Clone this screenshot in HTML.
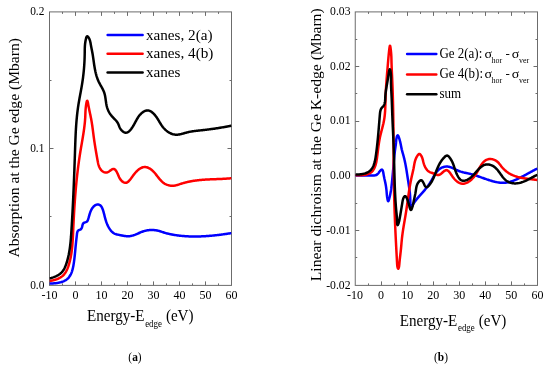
<!DOCTYPE html>
<html><head><meta charset="utf-8"><title>XANES</title>
<style>
html,body{margin:0;padding:0;background:#fff;}
body{width:550px;height:369px;overflow:hidden;}
svg{display:block;}
text{font-family:"Liberation Serif","DejaVu Serif",serif;fill:#000;}
.tk{font-size:12px;}
.lb{font-size:15px;}
.cap{font-size:10.5px;}
</style></head><body>
<svg width="550" height="369" viewBox="0 0 550 369">
<rect width="550" height="369" fill="#fff"/>

<g stroke="#6c6c6c" stroke-width="1" fill="none"><rect x="49.50" y="11.90" width="182.00" height="273.50"/><path d="M75.50,285.40v-4M75.50,11.90v4M101.50,285.40v-4M101.50,11.90v4M127.50,285.40v-4M127.50,11.90v4M153.50,285.40v-4M153.50,11.90v4M179.50,285.40v-4M179.50,11.90v4M205.50,285.40v-4M205.50,11.90v4M62.50,285.40v-2M62.50,11.90v2M88.50,285.40v-2M88.50,11.90v2M114.50,285.40v-2M114.50,11.90v2M140.50,285.40v-2M140.50,11.90v2M166.50,285.40v-2M166.50,11.90v2M192.50,285.40v-2M192.50,11.90v2M218.50,285.40v-2M218.50,11.90v2M49.50,148.50h4M231.50,148.50h-4M49.50,216.50h2M231.50,216.50h-2M49.50,80.50h2M231.50,80.50h-2"/></g>
<svg x="49.50" y="11.90" width="182.00" height="273.50" viewBox="49.50 11.90 182.00 273.50" overflow="hidden">
<path d="M49.40,283.60L49.99,283.59L50.60,283.57L51.23,283.54L51.87,283.51L52.53,283.47L53.19,283.43L53.87,283.37L54.55,283.31L55.24,283.24L55.94,283.15L56.64,283.06L57.33,282.95L58.03,282.83L58.73,282.69L59.42,282.54L60.11,282.38L60.79,282.20L61.46,282.00L62.12,281.79L62.77,281.55L63.41,281.30L64.03,281.03L64.63,280.74L65.22,280.43L65.78,280.09L66.33,279.73L66.84,279.35L67.34,278.95L67.81,278.52L68.25,278.07L68.68,277.60L69.08,277.10L69.45,276.59L69.81,276.06L70.15,275.52L70.47,274.95L70.77,274.37L71.05,273.78L71.31,273.18L71.56,272.56L71.80,271.93L72.02,271.29L72.22,270.64L72.41,269.98L72.59,269.32L72.76,268.65L72.92,267.97L73.07,267.29L73.21,266.61L73.34,265.92L73.46,265.24L73.58,264.55L73.69,263.86L73.79,263.18L73.89,262.50L73.99,261.82L74.08,261.14L74.17,260.47L74.25,259.80L74.34,259.14L74.42,258.47L74.50,257.81L74.57,257.16L74.64,256.50L74.72,255.84L74.78,255.19L74.85,254.54L74.92,253.89L74.98,253.24L75.05,252.59L75.11,251.94L75.17,251.29L75.23,250.64L75.29,249.99L75.35,249.34L75.41,248.69L75.47,248.04L75.53,247.38L75.60,246.73L75.66,246.08L75.72,245.42L75.79,244.76L75.85,244.10L75.92,243.43L75.99,242.76L76.06,242.09L76.13,241.42L76.20,240.75L76.28,240.07L76.36,239.38L76.44,238.70L76.52,238.01L76.60,237.33L76.68,236.64L76.76,235.95L76.83,235.27L76.91,234.58L76.98,233.90L77.07,233.23L77.18,232.59L77.35,231.98L77.58,231.42L77.89,230.93L78.32,230.51L78.86,230.18L79.51,229.91L80.17,229.65L80.75,229.31L81.22,228.87L81.58,228.35L81.85,227.75L82.05,227.09L82.21,226.40L82.35,225.70L82.52,225.01L82.73,224.35L83.01,223.75L83.38,223.23L83.86,222.84L84.45,222.56L85.10,222.34L85.76,222.14L86.38,221.90L86.91,221.56L87.32,221.09L87.64,220.53L87.90,219.90L88.13,219.25L88.34,218.60L88.55,217.95L88.74,217.29L88.93,216.64L89.12,215.99L89.30,215.35L89.48,214.71L89.67,214.07L89.87,213.44L90.07,212.82L90.29,212.20L90.52,211.59L90.77,210.99L91.04,210.39L91.33,209.80L91.66,209.21L92.01,208.63L92.39,208.06L92.81,207.50L93.27,206.96L93.75,206.44L94.27,205.96L94.82,205.53L95.39,205.16L95.99,204.86L96.62,204.64L97.26,204.52L97.92,204.51L98.60,204.61L99.26,204.81L99.88,205.10L100.44,205.48L100.92,205.94L101.34,206.47L101.69,207.04L102.01,207.64L102.28,208.27L102.54,208.90L102.78,209.53L103.00,210.17L103.20,210.80L103.40,211.44L103.58,212.08L103.76,212.72L103.92,213.37L104.09,214.01L104.25,214.66L104.41,215.30L104.57,215.95L104.73,216.59L104.89,217.24L105.06,217.89L105.24,218.54L105.42,219.18L105.61,219.83L105.81,220.47L106.02,221.11L106.23,221.75L106.46,222.38L106.69,223.01L106.94,223.64L107.19,224.26L107.46,224.87L107.74,225.48L108.03,226.09L108.34,226.68L108.66,227.27L109.00,227.85L109.35,228.42L109.72,228.99L110.10,229.54L110.50,230.08L110.92,230.61L111.36,231.13L111.82,231.62L112.30,232.08L112.81,232.50L113.33,232.89L113.89,233.24L114.46,233.54L115.06,233.81L115.68,234.05L116.31,234.26L116.95,234.44L117.61,234.61L118.27,234.76L118.94,234.90L119.62,235.03L120.29,235.16L120.97,235.29L121.64,235.42L122.31,235.55L122.98,235.68L123.65,235.80L124.31,235.91L124.98,236.01L125.64,236.10L126.30,236.17L126.96,236.22L127.62,236.24L128.28,236.24L128.93,236.22L129.59,236.16L130.24,236.08L130.89,235.96L131.54,235.83L132.19,235.66L132.84,235.48L133.48,235.28L134.12,235.06L134.76,234.83L135.39,234.59L136.02,234.33L136.65,234.07L137.27,233.81L137.89,233.54L138.51,233.27L139.13,232.99L139.75,232.73L140.36,232.46L140.98,232.21L141.60,231.96L142.23,231.72L142.85,231.49L143.49,231.28L144.13,231.09L144.77,230.91L145.42,230.74L146.07,230.60L146.73,230.47L147.39,230.35L148.05,230.25L148.72,230.17L149.39,230.11L150.05,230.06L150.73,230.02L151.40,230.01L152.07,230.01L152.74,230.02L153.41,230.05L154.08,230.10L154.75,230.17L155.42,230.25L156.08,230.34L156.75,230.46L157.40,230.59L158.06,230.73L158.71,230.89L159.36,231.07L160.00,231.26L160.64,231.46L161.27,231.67L161.91,231.88L162.54,232.10L163.18,232.31L163.81,232.51L164.45,232.71L165.09,232.90L165.73,233.08L166.38,233.26L167.02,233.42L167.67,233.58L168.32,233.74L168.97,233.89L169.62,234.03L170.28,234.17L170.94,234.30L171.59,234.43L172.25,234.56L172.91,234.68L173.58,234.79L174.24,234.90L174.90,235.01L175.56,235.12L176.23,235.21L176.89,235.31L177.55,235.40L178.22,235.49L178.88,235.57L179.55,235.65L180.21,235.73L180.88,235.80L181.55,235.87L182.21,235.93L182.88,235.99L183.54,236.05L184.21,236.11L184.88,236.16L185.54,236.20L186.21,236.25L186.88,236.29L187.55,236.32L188.21,236.35L188.88,236.38L189.55,236.41L190.22,236.43L190.89,236.45L191.55,236.47L192.22,236.48L192.89,236.49L193.56,236.50L194.23,236.51L194.90,236.51L195.56,236.51L196.23,236.50L196.90,236.49L197.57,236.48L198.24,236.47L198.91,236.45L199.58,236.44L200.25,236.42L200.91,236.39L201.58,236.36L202.25,236.34L202.92,236.30L203.59,236.27L204.26,236.23L204.93,236.19L205.59,236.15L206.26,236.11L206.93,236.06L207.60,236.02L208.27,235.97L208.94,235.91L209.60,235.86L210.27,235.80L210.94,235.74L211.61,235.68L212.27,235.62L212.94,235.55L213.61,235.49L214.27,235.42L214.94,235.35L215.60,235.28L216.27,235.20L216.94,235.13L217.60,235.05L218.27,234.97L218.93,234.89L219.60,234.81L220.26,234.72L220.92,234.64L221.59,234.55L222.25,234.46L222.91,234.37L223.58,234.28L224.24,234.19L224.90,234.10L225.56,234.00L226.22,233.91L226.88,233.81L227.55,233.71L228.21,233.61L228.87,233.51L229.52,233.41L230.18,233.31L230.84,233.20L231.50,233.10" fill="none" stroke="#0000ff" stroke-width="2.5" stroke-linejoin="round"/>
<path d="M49.40,281.00L49.99,280.91L50.60,280.81L51.22,280.70L51.86,280.58L52.51,280.44L53.17,280.29L53.83,280.12L54.50,279.94L55.18,279.74L55.85,279.53L56.52,279.30L57.18,279.05L57.84,278.78L58.48,278.50L59.12,278.20L59.73,277.87L60.34,277.53L60.92,277.17L61.48,276.79L62.01,276.38L62.52,275.96L63.01,275.51L63.47,275.05L63.91,274.57L64.34,274.07L64.74,273.56L65.12,273.03L65.48,272.49L65.83,271.93L66.16,271.36L66.47,270.78L66.77,270.19L67.05,269.59L67.32,268.98L67.58,268.36L67.82,267.74L68.06,267.11L68.28,266.47L68.49,265.83L68.70,265.19L68.90,264.55L69.09,263.90L69.27,263.25L69.45,262.60L69.63,261.95L69.79,261.30L69.95,260.65L70.11,260.00L70.26,259.34L70.40,258.69L70.54,258.03L70.67,257.38L70.80,256.72L70.92,256.06L71.04,255.40L71.15,254.75L71.26,254.09L71.37,253.42L71.47,252.76L71.56,252.10L71.65,251.44L71.74,250.77L71.82,250.11L71.90,249.45L71.98,248.78L72.05,248.12L72.12,247.45L72.19,246.78L72.25,246.12L72.31,245.45L72.37,244.78L72.42,244.11L72.48,243.44L72.53,242.78L72.58,242.11L72.62,241.44L72.66,240.77L72.71,240.10L72.75,239.43L72.79,238.76L72.82,238.09L72.86,237.42L72.89,236.75L72.93,236.07L72.96,235.40L72.99,234.73L73.02,234.06L73.05,233.39L73.08,232.72L73.11,232.05L73.14,231.38L73.17,230.71L73.20,230.04L73.23,229.37L73.26,228.70L73.29,228.03L73.32,227.36L73.35,226.69L73.38,226.02L73.42,225.35L73.45,224.68L73.48,224.01L73.51,223.35L73.55,222.68L73.58,222.01L73.61,221.34L73.65,220.67L73.68,220.00L73.71,219.34L73.75,218.67L73.78,218.00L73.82,217.33L73.86,216.67L73.89,216.00L73.93,215.33L73.97,214.67L74.00,214.00L74.04,213.33L74.08,212.67L74.12,212.00L74.16,211.33L74.20,210.67L74.24,210.00L74.28,209.33L74.32,208.67L74.36,208.00L74.40,207.34L74.45,206.67L74.49,206.01L74.53,205.34L74.58,204.67L74.62,204.01L74.67,203.34L74.71,202.68L74.76,202.01L74.81,201.35L74.85,200.68L74.90,200.02L74.95,199.36L75.00,198.69L75.05,198.03L75.10,197.36L75.15,196.70L75.20,196.03L75.25,195.37L75.31,194.70L75.36,194.04L75.41,193.38L75.47,192.71L75.52,192.05L75.58,191.38L75.64,190.72L75.69,190.06L75.75,189.39L75.81,188.73L75.87,188.07L75.93,187.40L75.99,186.74L76.05,186.08L76.11,185.41L76.18,184.75L76.24,184.08L76.30,183.42L76.37,182.76L76.43,182.09L76.50,181.43L76.57,180.77L76.64,180.10L76.70,179.44L76.77,178.78L76.84,178.11L76.92,177.45L76.99,176.79L77.06,176.12L77.13,175.46L77.21,174.80L77.28,174.13L77.36,173.47L77.44,172.81L77.52,172.14L77.59,171.48L77.67,170.82L77.75,170.15L77.84,169.49L77.92,168.83L78.00,168.16L78.08,167.50L78.17,166.84L78.26,166.17L78.34,165.51L78.43,164.85L78.52,164.18L78.61,163.52L78.70,162.86L78.79,162.19L78.88,161.53L78.98,160.86L79.07,160.20L79.17,159.54L79.26,158.87L79.36,158.21L79.46,157.54L79.56,156.88L79.66,156.22L79.76,155.55L79.86,154.89L79.97,154.22L80.07,153.56L80.18,152.89L80.28,152.23L80.39,151.57L80.50,150.90L80.61,150.24L80.72,149.57L80.83,148.91L80.94,148.24L81.06,147.58L81.17,146.91L81.28,146.25L81.40,145.58L81.51,144.92L81.63,144.26L81.74,143.59L81.86,142.93L81.97,142.27L82.08,141.60L82.20,140.94L82.31,140.28L82.42,139.62L82.53,138.96L82.64,138.30L82.75,137.64L82.86,136.98L82.97,136.32L83.08,135.66L83.18,135.00L83.29,134.34L83.39,133.69L83.49,133.03L83.59,132.38L83.69,131.72L83.79,131.07L83.88,130.42L83.97,129.76L84.06,129.11L84.15,128.46L84.24,127.81L84.32,127.17L84.40,126.52L84.48,125.87L84.55,125.23L84.63,124.58L84.70,123.94L84.76,123.30L84.83,122.66L84.89,122.02L84.95,121.38L85.00,120.74L85.05,120.11L85.10,119.47L85.14,118.84L85.18,118.21L85.22,117.57L85.25,116.95L85.28,116.32L85.30,115.69L85.33,115.06L85.35,114.42L85.37,113.78L85.40,113.13L85.43,112.47L85.46,111.80L85.49,111.11L85.54,110.41L85.59,109.69L85.65,108.95L85.72,108.19L85.80,107.40L85.89,106.59L86.00,105.74L86.12,104.87L86.25,103.99L86.40,103.14L86.56,102.36L86.72,101.69L86.89,101.17L87.06,100.84L87.23,100.75L87.39,100.91L87.56,101.30L87.72,101.86L87.88,102.57L88.04,103.37L88.20,104.23L88.36,105.11L88.51,105.97L88.66,106.79L88.81,107.58L88.96,108.33L89.11,109.07L89.25,109.77L89.39,110.46L89.53,111.13L89.67,111.77L89.80,112.41L89.94,113.03L90.07,113.64L90.20,114.25L90.33,114.85L90.46,115.45L90.58,116.05L90.70,116.65L90.82,117.26L90.94,117.87L91.06,118.49L91.18,119.11L91.29,119.74L91.40,120.37L91.51,121.00L91.62,121.64L91.73,122.29L91.84,122.93L91.94,123.59L92.04,124.24L92.14,124.90L92.24,125.56L92.34,126.23L92.43,126.89L92.52,127.57L92.61,128.24L92.70,128.91L92.79,129.59L92.88,130.27L92.97,130.95L93.05,131.63L93.14,132.31L93.23,132.99L93.31,133.67L93.40,134.34L93.48,135.02L93.57,135.69L93.66,136.35L93.75,137.02L93.84,137.68L93.93,138.34L94.03,139.00L94.12,139.66L94.21,140.32L94.31,140.97L94.40,141.62L94.50,142.28L94.60,142.93L94.70,143.58L94.80,144.23L94.90,144.87L95.00,145.52L95.10,146.17L95.21,146.82L95.31,147.47L95.42,148.11L95.52,148.76L95.63,149.41L95.74,150.06L95.85,150.71L95.96,151.37L96.07,152.02L96.18,152.67L96.30,153.33L96.41,153.99L96.52,154.65L96.64,155.31L96.76,155.97L96.88,156.64L97.00,157.31L97.12,157.98L97.24,158.65L97.36,159.33L97.48,160.01L97.61,160.70L97.74,161.38L97.87,162.06L98.01,162.75L98.17,163.43L98.33,164.10L98.51,164.76L98.71,165.42L98.93,166.06L99.18,166.69L99.45,167.30L99.74,167.90L100.07,168.48L100.42,169.04L100.82,169.57L101.25,170.08L101.72,170.57L102.23,171.02L102.78,171.44L103.37,171.82L103.98,172.14L104.61,172.38L105.25,172.55L105.89,172.61L106.52,172.57L107.15,172.42L107.77,172.17L108.38,171.85L108.99,171.48L109.60,171.06L110.20,170.62L110.80,170.19L111.40,169.77L111.99,169.41L112.57,169.13L113.13,168.96L113.67,168.93L114.19,169.04L114.68,169.29L115.15,169.66L115.59,170.14L116.02,170.70L116.42,171.32L116.79,171.99L117.15,172.70L117.48,173.41L117.79,174.12L118.08,174.80L118.35,175.47L118.62,176.11L118.90,176.74L119.18,177.35L119.48,177.94L119.81,178.52L120.18,179.09L120.58,179.65L121.04,180.20L121.54,180.72L122.07,181.22L122.63,181.66L123.22,182.05L123.82,182.37L124.42,182.61L125.02,182.75L125.62,182.79L126.21,182.72L126.78,182.54L127.33,182.27L127.87,181.91L128.40,181.49L128.91,181.01L129.41,180.48L129.90,179.91L130.37,179.32L130.83,178.72L131.27,178.11L131.70,177.52L132.12,176.94L132.53,176.37L132.93,175.81L133.33,175.27L133.72,174.74L134.12,174.22L134.52,173.70L134.93,173.20L135.34,172.71L135.76,172.23L136.20,171.75L136.66,171.29L137.13,170.83L137.63,170.37L138.14,169.93L138.68,169.50L139.24,169.09L139.81,168.70L140.41,168.34L141.01,168.01L141.63,167.72L142.26,167.47L142.90,167.27L143.54,167.12L144.20,167.03L144.86,167.01L145.52,167.04L146.18,167.14L146.84,167.30L147.49,167.50L148.12,167.74L148.73,168.02L149.32,168.32L149.90,168.64L150.45,169.00L150.98,169.37L151.50,169.77L152.01,170.19L152.50,170.62L152.97,171.07L153.44,171.54L153.89,172.02L154.34,172.52L154.78,173.03L155.21,173.54L155.64,174.07L156.06,174.60L156.48,175.14L156.90,175.68L157.32,176.22L157.74,176.76L158.16,177.31L158.59,177.85L159.02,178.39L159.45,178.92L159.90,179.45L160.35,179.97L160.81,180.47L161.28,180.96L161.77,181.44L162.26,181.90L162.77,182.33L163.30,182.75L163.84,183.14L164.40,183.51L164.97,183.84L165.56,184.16L166.17,184.44L166.79,184.70L167.42,184.92L168.06,185.12L168.71,185.30L169.36,185.44L170.02,185.56L170.69,185.65L171.36,185.70L172.03,185.74L172.70,185.74L173.37,185.71L174.04,185.66L174.70,185.57L175.36,185.46L176.02,185.32L176.67,185.16L177.31,184.97L177.96,184.78L178.60,184.57L179.24,184.36L179.88,184.14L180.51,183.93L181.16,183.73L181.80,183.52L182.44,183.33L183.08,183.14L183.73,182.96L184.37,182.78L185.02,182.61L185.67,182.44L186.31,182.28L186.96,182.13L187.61,181.98L188.27,181.83L188.92,181.69L189.57,181.56L190.22,181.43L190.88,181.31L191.53,181.19L192.19,181.07L192.85,180.96L193.50,180.85L194.16,180.75L194.82,180.65L195.48,180.56L196.14,180.47L196.80,180.39L197.46,180.30L198.13,180.23L198.79,180.15L199.45,180.08L200.12,180.02L200.78,179.95L201.44,179.89L202.11,179.84L202.78,179.78L203.44,179.73L204.11,179.68L204.78,179.64L205.44,179.60L206.11,179.56L206.78,179.52L207.45,179.48L208.12,179.45L208.79,179.42L209.45,179.39L210.12,179.36L210.79,179.33L211.46,179.30L212.13,179.28L212.80,179.25L213.47,179.23L214.14,179.20L214.81,179.18L215.48,179.15L216.15,179.13L216.82,179.11L217.49,179.08L218.16,179.06L218.83,179.03L219.50,179.01L220.17,178.98L220.84,178.95L221.51,178.92L222.18,178.89L222.85,178.85L223.51,178.82L224.18,178.78L224.85,178.74L225.52,178.70L226.18,178.66L226.85,178.61L227.52,178.56L228.18,178.51L228.85,178.46L229.51,178.40L230.17,178.34L230.84,178.27L231.50,178.20" fill="none" stroke="#ff0000" stroke-width="2.5" stroke-linejoin="round"/>
<path d="M49.40,278.40L50.00,278.27L50.61,278.12L51.23,277.96L51.86,277.78L52.50,277.58L53.14,277.37L53.78,277.14L54.42,276.89L55.06,276.63L55.70,276.35L56.33,276.06L56.95,275.74L57.56,275.41L58.16,275.07L58.75,274.70L59.32,274.31L59.88,273.91L60.41,273.49L60.92,273.05L61.41,272.59L61.87,272.12L62.31,271.62L62.72,271.11L63.11,270.58L63.48,270.03L63.82,269.48L64.15,268.90L64.46,268.32L64.75,267.73L65.03,267.13L65.29,266.52L65.54,265.90L65.78,265.27L66.01,264.64L66.23,264.01L66.44,263.37L66.64,262.74L66.84,262.10L67.03,261.46L67.22,260.81L67.40,260.17L67.57,259.53L67.74,258.88L67.90,258.24L68.06,257.59L68.21,256.94L68.36,256.29L68.50,255.64L68.64,254.99L68.78,254.34L68.90,253.68L69.03,253.03L69.15,252.37L69.27,251.72L69.38,251.06L69.49,250.41L69.59,249.75L69.69,249.09L69.79,248.43L69.88,247.77L69.97,247.11L70.05,246.45L70.14,245.78L70.22,245.12L70.30,244.46L70.37,243.80L70.44,243.13L70.51,242.47L70.58,241.80L70.64,241.14L70.70,240.47L70.76,239.80L70.82,239.14L70.88,238.47L70.93,237.80L70.98,237.14L71.04,236.47L71.08,235.80L71.13,235.13L71.18,234.47L71.23,233.80L71.27,233.13L71.32,232.46L71.36,231.79L71.40,231.13L71.45,230.46L71.49,229.79L71.53,229.12L71.57,228.45L71.61,227.79L71.65,227.12L71.69,226.45L71.73,225.78L71.78,225.12L71.82,224.45L71.85,223.78L71.89,223.11L71.93,222.45L71.97,221.78L72.01,221.11L72.05,220.45L72.09,219.78L72.13,219.11L72.16,218.44L72.20,217.78L72.24,217.11L72.28,216.44L72.31,215.78L72.35,215.11L72.39,214.44L72.42,213.78L72.46,213.11L72.49,212.45L72.53,211.78L72.56,211.11L72.60,210.45L72.63,209.78L72.67,209.11L72.70,208.45L72.74,207.78L72.77,207.12L72.80,206.45L72.84,205.78L72.87,205.12L72.90,204.45L72.94,203.79L72.97,203.12L73.00,202.45L73.03,201.79L73.07,201.12L73.10,200.46L73.13,199.79L73.16,199.12L73.19,198.46L73.22,197.79L73.25,197.13L73.28,196.46L73.31,195.80L73.35,195.13L73.38,194.46L73.41,193.80L73.43,193.13L73.46,192.47L73.49,191.80L73.52,191.14L73.55,190.47L73.58,189.80L73.61,189.14L73.64,188.47L73.67,187.81L73.69,187.14L73.72,186.47L73.75,185.81L73.78,185.14L73.81,184.48L73.83,183.81L73.86,183.15L73.89,182.48L73.91,181.81L73.94,181.15L73.97,180.48L73.99,179.81L74.02,179.15L74.05,178.48L74.07,177.82L74.10,177.15L74.12,176.48L74.15,175.82L74.18,175.15L74.20,174.49L74.23,173.82L74.25,173.15L74.28,172.49L74.30,171.82L74.33,171.15L74.35,170.49L74.38,169.82L74.40,169.15L74.42,168.49L74.45,167.82L74.47,167.15L74.50,166.48L74.52,165.82L74.54,165.15L74.57,164.48L74.59,163.82L74.62,163.15L74.64,162.48L74.66,161.81L74.68,161.15L74.71,160.48L74.73,159.81L74.75,159.14L74.78,158.48L74.80,157.81L74.82,157.14L74.84,156.47L74.87,155.80L74.89,155.13L74.91,154.47L74.93,153.80L74.96,153.13L74.98,152.46L75.00,151.79L75.02,151.12L75.04,150.45L75.07,149.79L75.09,149.12L75.11,148.45L75.13,147.78L75.15,147.11L75.18,146.44L75.20,145.77L75.22,145.10L75.25,144.43L75.27,143.76L75.29,143.09L75.32,142.42L75.34,141.75L75.37,141.09L75.39,140.42L75.42,139.75L75.44,139.08L75.47,138.41L75.50,137.74L75.53,137.07L75.56,136.40L75.59,135.73L75.62,135.06L75.65,134.40L75.68,133.73L75.71,133.06L75.75,132.39L75.78,131.72L75.82,131.05L75.86,130.39L75.90,129.72L75.93,129.05L75.97,128.38L76.02,127.72L76.06,127.05L76.10,126.38L76.15,125.72L76.19,125.05L76.24,124.38L76.29,123.72L76.34,123.05L76.39,122.39L76.45,121.72L76.50,121.06L76.56,120.39L76.62,119.73L76.67,119.06L76.74,118.40L76.80,117.74L76.86,117.07L76.93,116.41L77.00,115.75L77.07,115.08L77.14,114.42L77.21,113.76L77.29,113.10L77.36,112.44L77.44,111.78L77.53,111.12L77.61,110.46L77.69,109.80L77.78,109.14L77.87,108.48L77.96,107.82L78.06,107.16L78.15,106.51L78.25,105.85L78.35,105.19L78.46,104.54L78.56,103.88L78.67,103.23L78.78,102.57L78.89,101.92L79.00,101.26L79.12,100.61L79.23,99.95L79.35,99.30L79.46,98.64L79.58,97.99L79.70,97.34L79.82,96.68L79.94,96.03L80.06,95.37L80.18,94.72L80.30,94.06L80.42,93.41L80.55,92.76L80.67,92.10L80.79,91.44L80.91,90.79L81.03,90.13L81.15,89.48L81.26,88.82L81.38,88.16L81.50,87.50L81.61,86.84L81.72,86.18L81.84,85.52L81.95,84.86L82.06,84.20L82.16,83.54L82.27,82.88L82.37,82.21L82.47,81.55L82.57,80.88L82.66,80.22L82.76,79.55L82.85,78.88L82.94,78.22L83.03,77.55L83.11,76.88L83.19,76.21L83.27,75.54L83.35,74.87L83.43,74.20L83.50,73.53L83.57,72.86L83.64,72.19L83.71,71.52L83.77,70.85L83.84,70.18L83.90,69.51L83.96,68.84L84.01,68.17L84.07,67.50L84.12,66.84L84.17,66.17L84.22,65.50L84.26,64.84L84.30,64.17L84.35,63.51L84.38,62.85L84.42,62.18L84.46,61.52L84.49,60.86L84.52,60.21L84.55,59.55L84.58,58.89L84.60,58.24L84.62,57.59L84.64,56.94L84.66,56.29L84.68,55.64L84.69,54.99L84.71,54.35L84.72,53.71L84.73,53.07L84.73,52.43L84.74,51.79L84.74,51.16L84.75,50.52L84.76,49.88L84.77,49.24L84.78,48.60L84.80,47.95L84.83,47.29L84.86,46.63L84.90,45.97L84.95,45.29L85.01,44.61L85.08,43.91L85.16,43.21L85.26,42.49L85.37,41.76L85.50,41.01L85.64,40.25L85.80,39.48L85.98,38.69L86.18,37.91L86.41,37.20L86.69,36.65L87.01,36.33L87.38,36.30L87.81,36.56L88.25,37.04L88.67,37.63L89.04,38.27L89.36,38.93L89.64,39.60L89.87,40.28L90.08,40.97L90.25,41.67L90.40,42.37L90.54,43.06L90.66,43.76L90.78,44.44L90.90,45.12L91.02,45.79L91.14,46.45L91.27,47.10L91.40,47.74L91.53,48.38L91.65,49.02L91.78,49.65L91.91,50.28L92.03,50.91L92.15,51.54L92.27,52.17L92.39,52.80L92.50,53.44L92.61,54.08L92.72,54.72L92.82,55.37L92.92,56.01L93.02,56.67L93.12,57.32L93.21,57.97L93.31,58.63L93.40,59.29L93.49,59.95L93.59,60.62L93.68,61.28L93.77,61.94L93.87,62.61L93.96,63.28L94.06,63.94L94.16,64.61L94.26,65.28L94.37,65.94L94.48,66.61L94.59,67.28L94.70,67.94L94.82,68.61L94.94,69.27L95.07,69.93L95.21,70.59L95.34,71.25L95.49,71.91L95.64,72.56L95.79,73.21L95.96,73.86L96.13,74.51L96.31,75.15L96.49,75.80L96.68,76.43L96.89,77.07L97.10,77.70L97.32,78.33L97.55,78.95L97.78,79.57L98.03,80.18L98.29,80.79L98.56,81.40L98.84,82.00L99.14,82.59L99.44,83.19L99.75,83.77L100.07,84.35L100.39,84.94L100.72,85.51L101.05,86.09L101.38,86.67L101.70,87.25L102.02,87.83L102.34,88.41L102.64,89.00L102.94,89.59L103.23,90.18L103.50,90.78L103.76,91.39L104.00,92.00L104.22,92.62L104.42,93.25L104.60,93.88L104.77,94.52L104.92,95.17L105.06,95.83L105.18,96.49L105.30,97.15L105.40,97.82L105.50,98.49L105.60,99.16L105.69,99.84L105.78,100.51L105.88,101.18L105.97,101.86L106.07,102.53L106.17,103.20L106.29,103.87L106.41,104.54L106.54,105.20L106.69,105.85L106.85,106.50L107.02,107.15L107.21,107.79L107.42,108.42L107.64,109.04L107.88,109.66L108.13,110.27L108.40,110.87L108.69,111.46L108.99,112.05L109.31,112.62L109.65,113.19L110.00,113.74L110.37,114.29L110.76,114.82L111.17,115.34L111.59,115.86L112.03,116.36L112.48,116.85L112.94,117.34L113.41,117.82L113.88,118.30L114.35,118.78L114.82,119.26L115.28,119.74L115.72,120.23L116.16,120.73L116.58,121.24L116.97,121.76L117.34,122.30L117.69,122.85L118.00,123.42L118.28,124.01L118.54,124.61L118.79,125.23L119.03,125.85L119.28,126.48L119.55,127.11L119.84,127.74L120.16,128.36L120.53,128.97L120.96,129.57L121.43,130.14L121.93,130.68L122.48,131.18L123.05,131.62L123.64,132.00L124.24,132.31L124.86,132.54L125.47,132.67L126.08,132.70L126.68,132.62L127.27,132.44L127.84,132.18L128.40,131.83L128.94,131.41L129.47,130.94L129.98,130.42L130.47,129.87L130.94,129.29L131.39,128.70L131.82,128.10L132.22,127.51L132.61,126.92L132.98,126.33L133.34,125.75L133.68,125.16L134.01,124.58L134.33,124.01L134.65,123.43L134.96,122.85L135.26,122.28L135.57,121.71L135.87,121.14L136.18,120.57L136.49,120.00L136.81,119.43L137.13,118.87L137.47,118.30L137.82,117.74L138.18,117.18L138.55,116.63L138.94,116.09L139.34,115.55L139.77,115.03L140.21,114.52L140.67,114.03L141.15,113.55L141.66,113.10L142.19,112.66L142.74,112.24L143.32,111.85L143.92,111.49L144.54,111.17L145.17,110.89L145.82,110.67L146.47,110.51L147.12,110.41L147.76,110.40L148.40,110.46L149.03,110.61L149.65,110.82L150.26,111.09L150.86,111.43L151.44,111.80L152.00,112.22L152.55,112.67L153.07,113.14L153.58,113.64L154.06,114.14L154.53,114.65L154.97,115.17L155.40,115.69L155.81,116.22L156.21,116.76L156.59,117.31L156.97,117.85L157.33,118.41L157.68,118.96L158.03,119.52L158.37,120.08L158.71,120.64L159.05,121.20L159.38,121.76L159.72,122.32L160.05,122.88L160.39,123.44L160.74,124.00L161.09,124.55L161.45,125.09L161.82,125.63L162.21,126.17L162.60,126.70L163.01,127.22L163.43,127.74L163.88,128.25L164.34,128.74L164.81,129.23L165.31,129.71L165.82,130.17L166.35,130.62L166.89,131.05L167.45,131.47L168.02,131.87L168.60,132.24L169.19,132.60L169.79,132.93L170.40,133.24L171.02,133.52L171.65,133.78L172.28,134.01L172.92,134.21L173.57,134.38L174.21,134.51L174.86,134.61L175.52,134.68L176.17,134.71L176.83,134.71L177.48,134.67L178.14,134.61L178.80,134.52L179.45,134.41L180.11,134.28L180.77,134.14L181.43,133.98L182.09,133.80L182.75,133.62L183.41,133.43L184.07,133.24L184.73,133.05L185.39,132.86L186.04,132.68L186.70,132.51L187.36,132.34L188.02,132.18L188.67,132.04L189.33,131.90L189.99,131.77L190.64,131.64L191.30,131.53L191.95,131.42L192.61,131.32L193.26,131.22L193.91,131.13L194.57,131.04L195.22,130.95L195.88,130.87L196.53,130.80L197.19,130.72L197.84,130.65L198.50,130.58L199.16,130.51L199.81,130.44L200.47,130.38L201.13,130.31L201.79,130.24L202.44,130.17L203.10,130.10L203.76,130.02L204.42,129.95L205.09,129.87L205.75,129.79L206.41,129.71L207.07,129.63L207.74,129.55L208.40,129.46L209.06,129.38L209.73,129.29L210.39,129.20L211.05,129.11L211.72,129.02L212.38,128.93L213.05,128.83L213.71,128.74L214.38,128.64L215.04,128.54L215.71,128.44L216.37,128.34L217.03,128.24L217.70,128.14L218.36,128.03L219.02,127.92L219.69,127.82L220.35,127.71L221.01,127.60L221.67,127.49L222.33,127.38L222.99,127.26L223.65,127.15L224.31,127.04L224.97,126.92L225.63,126.80L226.28,126.68L226.94,126.56L227.59,126.44L228.25,126.32L228.90,126.20L229.55,126.08L230.20,125.95L230.85,125.83L231.50,125.70" fill="none" stroke="#000" stroke-width="2.5" stroke-linejoin="round"/>
</svg>
<text transform="translate(49.39,298.70) scale(1.000,1.040)" style="font-size:12px" text-anchor="middle">-10</text>
<text transform="translate(75.40,298.70) scale(1.000,1.040)" style="font-size:12px" text-anchor="middle">0</text>
<text transform="translate(101.41,298.70) scale(1.000,1.040)" style="font-size:12px" text-anchor="middle">10</text>
<text transform="translate(127.42,298.70) scale(1.000,1.040)" style="font-size:12px" text-anchor="middle">20</text>
<text transform="translate(153.43,298.70) scale(1.000,1.040)" style="font-size:12px" text-anchor="middle">30</text>
<text transform="translate(179.44,298.70) scale(1.000,1.040)" style="font-size:12px" text-anchor="middle">40</text>
<text transform="translate(205.45,298.70) scale(1.000,1.040)" style="font-size:12px" text-anchor="middle">50</text>
<text transform="translate(231.46,298.70) scale(1.000,1.040)" style="font-size:12px" text-anchor="middle">60</text>
<text transform="translate(44.40,288.50) scale(1.000,1.040)" style="font-size:11.4px" text-anchor="end">0.0</text>
<text transform="translate(44.40,151.80) scale(1.000,1.040)" style="font-size:11.4px" text-anchor="end">0.1</text>
<text transform="translate(44.40,14.90) scale(1.000,1.040)" style="font-size:11.4px" text-anchor="end">0.2</text>
<path d="M107.6,34.9H142.6" stroke="#0000ff" stroke-width="2.5" stroke-linecap="round"/>
<text transform="translate(145.90,39.50) scale(1.000,1.000)" style="font-size:15.2px">xanes, 2(a)</text>
<path d="M107.6,53.8H142.6" stroke="#ff0000" stroke-width="2.5" stroke-linecap="round"/>
<text transform="translate(145.90,58.40) scale(1.000,1.000)" style="font-size:15.2px">xanes, 4(b)</text>
<path d="M107.6,72.6H142.6" stroke="#000" stroke-width="2.5" stroke-linecap="round"/>
<text transform="translate(145.90,77.20) scale(1.000,1.000)" style="font-size:15.2px">xanes</text>
<text transform="translate(19.30,257.60) rotate(-90) scale(1.040,1)" style="font-size:15px">Absorption at the Ge edge (Mbarn)</text>
<text transform="translate(87.00,321.40) scale(1.000,1.050)" style="font-size:15.1px">Energy-E<tspan dx="0.6" dy="5.5" style="font-size:8.9px">edge</tspan><tspan dx="0.2" dy="-5.5"> (eV)</tspan></text>
<text transform="translate(135.00,360.70) scale(1.000,1.080)" style="font-size:11.4px" text-anchor="middle">(<tspan font-weight="bold">a</tspan>)</text>
<g stroke="#6c6c6c" stroke-width="1" fill="none"><rect x="355.25" y="11.90" width="182.25" height="273.50"/><path d="M381.50,285.40v-4M381.50,11.90v4M407.50,285.40v-4M407.50,11.90v4M433.50,285.40v-4M433.50,11.90v4M459.50,285.40v-4M459.50,11.90v4M485.50,285.40v-4M485.50,11.90v4M511.50,285.40v-4M511.50,11.90v4M368.50,285.40v-2M368.50,11.90v2M394.50,285.40v-2M394.50,11.90v2M420.50,285.40v-2M420.50,11.90v2M446.50,285.40v-2M446.50,11.90v2M472.50,285.40v-2M472.50,11.90v2M498.50,285.40v-2M498.50,11.90v2M524.50,285.40v-2M524.50,11.90v2M355.25,230.50h4M537.50,230.50h-4M355.25,175.50h4M537.50,175.50h-4M355.25,121.50h4M537.50,121.50h-4M355.25,66.50h4M537.50,66.50h-4M355.25,257.50h2M537.50,257.50h-2M355.25,203.50h2M537.50,203.50h-2M355.25,148.50h2M537.50,148.50h-2M355.25,93.50h2M537.50,93.50h-2M355.25,39.50h2M537.50,39.50h-2"/></g>
<svg x="355.25" y="11.90" width="182.25" height="273.50" viewBox="355.25 11.90 182.25 273.50" overflow="hidden">
<path d="M355.50,175.60L356.17,175.60L356.84,175.60L357.50,175.60L358.17,175.60L358.84,175.60L359.51,175.60L360.18,175.60L360.85,175.60L361.52,175.60L362.19,175.60L362.85,175.60L363.52,175.60L364.19,175.60L364.86,175.60L365.53,175.60L366.20,175.60L366.86,175.60L367.53,175.60L368.20,175.59L368.86,175.59L369.53,175.58L370.20,175.57L370.88,175.56L371.55,175.54L372.23,175.52L372.91,175.50L373.60,175.47L374.28,175.42L374.94,175.34L375.58,175.21L376.19,175.02L376.75,174.75L377.26,174.39L377.73,173.95L378.16,173.44L378.58,172.90L379.00,172.32L379.42,171.74L379.88,171.16L380.36,170.60L380.89,170.10L381.40,169.75L381.87,169.62L382.26,169.77L382.58,170.17L382.84,170.75L383.05,171.49L383.23,172.31L383.38,173.18L383.52,174.05L383.66,174.87L383.81,175.66L383.95,176.40L384.09,177.11L384.23,177.79L384.37,178.44L384.50,179.07L384.64,179.68L384.77,180.27L384.91,180.86L385.04,181.44L385.16,182.02L385.29,182.61L385.41,183.20L385.53,183.80L385.65,184.42L385.76,185.05L385.87,185.71L385.98,186.38L386.08,187.06L386.17,187.75L386.26,188.44L386.35,189.13L386.42,189.81L386.49,190.48L386.56,191.13L386.61,191.77L386.66,192.39L386.71,193.01L386.76,193.63L386.82,194.26L386.88,194.91L386.95,195.57L387.04,196.27L387.13,196.99L387.25,197.76L387.39,198.58L387.54,199.43L387.72,200.23L387.92,200.86L388.13,201.22L388.35,201.21L388.58,200.84L388.81,200.20L389.04,199.41L389.26,198.56L389.47,197.73L389.66,196.93L389.84,196.16L390.01,195.41L390.17,194.68L390.31,193.97L390.45,193.28L390.58,192.61L390.70,191.96L390.81,191.32L390.92,190.69L391.01,190.07L391.11,189.46L391.19,188.85L391.28,188.25L391.35,187.65L391.43,187.06L391.50,186.46L391.57,185.86L391.64,185.25L391.71,184.64L391.78,184.02L391.85,183.39L391.91,182.76L391.98,182.12L392.05,181.48L392.11,180.83L392.18,180.17L392.25,179.51L392.31,178.85L392.37,178.18L392.44,177.51L392.50,176.84L392.57,176.16L392.63,175.48L392.69,174.80L392.75,174.12L392.82,173.43L392.88,172.75L392.94,172.06L393.00,171.37L393.06,170.68L393.12,169.99L393.18,169.31L393.24,168.62L393.30,167.93L393.35,167.25L393.41,166.57L393.47,165.88L393.53,165.21L393.58,164.53L393.64,163.85L393.70,163.18L393.75,162.51L393.81,161.84L393.87,161.17L393.93,160.51L393.99,159.84L394.05,159.18L394.11,158.52L394.17,157.86L394.23,157.20L394.30,156.54L394.36,155.89L394.43,155.23L394.50,154.58L394.57,153.93L394.64,153.27L394.72,152.62L394.79,151.98L394.87,151.33L394.95,150.68L395.04,150.04L395.12,149.39L395.21,148.75L395.30,148.10L395.40,147.46L395.49,146.82L395.59,146.17L395.68,145.53L395.77,144.87L395.85,144.22L395.92,143.56L395.99,142.89L396.04,142.21L396.09,141.52L396.15,140.83L396.21,140.12L396.30,139.40L396.41,138.68L396.55,137.94L396.73,137.20L396.96,136.45L397.23,135.79L397.52,135.36L397.83,135.30L398.14,135.64L398.43,136.24L398.72,136.97L398.98,137.72L399.22,138.44L399.45,139.15L399.65,139.85L399.84,140.53L400.02,141.21L400.18,141.87L400.34,142.53L400.48,143.18L400.62,143.82L400.75,144.46L400.87,145.09L401.00,145.72L401.12,146.35L401.25,146.97L401.37,147.60L401.50,148.23L401.64,148.86L401.78,149.49L401.94,150.13L402.10,150.77L402.27,151.42L402.45,152.07L402.63,152.72L402.82,153.38L403.00,154.04L403.19,154.70L403.37,155.36L403.55,156.01L403.73,156.67L403.90,157.33L404.06,157.98L404.22,158.63L404.38,159.28L404.53,159.93L404.68,160.58L404.82,161.23L404.96,161.88L405.10,162.53L405.23,163.17L405.36,163.82L405.49,164.47L405.61,165.12L405.73,165.76L405.85,166.41L405.96,167.06L406.08,167.71L406.19,168.36L406.30,169.01L406.41,169.66L406.51,170.31L406.62,170.97L406.73,171.62L406.83,172.28L406.93,172.94L407.04,173.60L407.14,174.26L407.24,174.93L407.34,175.59L407.44,176.26L407.55,176.93L407.65,177.61L407.76,178.28L407.86,178.96L407.97,179.64L408.07,180.32L408.18,181.00L408.28,181.68L408.39,182.36L408.49,183.04L408.60,183.71L408.70,184.38L408.80,185.05L408.90,185.71L408.99,186.36L409.09,187.01L409.18,187.65L409.27,188.29L409.36,188.92L409.44,189.53L409.52,190.14L409.60,190.74L409.68,191.33L409.75,191.91L409.81,192.49L409.88,193.08L409.93,193.67L409.99,194.28L410.04,194.91L410.09,195.56L410.13,196.25L410.17,196.97L410.21,197.73L410.24,198.53L410.27,199.39L410.30,200.30L410.32,201.26L410.35,202.24L410.39,203.21L410.44,204.14L410.50,204.99L410.60,205.73L410.72,206.34L410.88,206.78L411.08,207.02L411.32,207.04L411.62,206.80L411.95,206.34L412.32,205.73L412.70,205.04L413.09,204.35L413.47,203.69L413.85,203.08L414.22,202.49L414.60,201.94L414.98,201.40L415.36,200.89L415.74,200.38L416.14,199.88L416.54,199.37L416.95,198.87L417.37,198.37L417.79,197.87L418.22,197.37L418.66,196.87L419.10,196.37L419.54,195.87L419.99,195.37L420.44,194.87L420.89,194.37L421.34,193.87L421.80,193.36L422.25,192.86L422.70,192.36L423.14,191.85L423.58,191.34L424.02,190.84L424.46,190.33L424.89,189.82L425.31,189.30L425.73,188.79L426.14,188.27L426.55,187.75L426.95,187.23L427.35,186.71L427.74,186.18L428.13,185.65L428.51,185.11L428.88,184.57L429.26,184.02L429.62,183.47L429.99,182.91L430.34,182.35L430.70,181.78L431.04,181.21L431.39,180.63L431.73,180.04L432.06,179.44L432.40,178.84L432.73,178.24L433.06,177.63L433.39,177.03L433.73,176.42L434.07,175.82L434.41,175.23L434.76,174.64L435.12,174.05L435.49,173.48L435.87,172.92L436.26,172.37L436.67,171.84L437.09,171.32L437.53,170.83L437.98,170.35L438.46,169.89L438.95,169.46L439.47,169.05L440.01,168.66L440.57,168.31L441.15,167.98L441.76,167.69L442.38,167.42L443.02,167.19L443.66,166.99L444.32,166.83L444.98,166.71L445.65,166.62L446.32,166.57L446.98,166.56L447.65,166.59L448.30,166.67L448.95,166.78L449.59,166.92L450.23,167.10L450.86,167.31L451.49,167.55L452.11,167.80L452.73,168.07L453.35,168.36L453.97,168.66L454.58,168.96L455.20,169.27L455.81,169.58L456.43,169.89L457.05,170.18L457.67,170.47L458.29,170.75L458.92,171.00L459.55,171.24L460.18,171.46L460.82,171.67L461.46,171.86L462.10,172.04L462.74,172.21L463.39,172.37L464.03,172.53L464.68,172.67L465.33,172.81L465.97,172.95L466.62,173.09L467.27,173.23L467.91,173.36L468.56,173.51L469.20,173.65L469.84,173.80L470.48,173.96L471.11,174.13L471.75,174.30L472.38,174.47L473.01,174.65L473.64,174.84L474.27,175.03L474.90,175.23L475.52,175.43L476.15,175.63L476.77,175.84L477.40,176.05L478.02,176.27L478.64,176.48L479.27,176.70L479.89,176.92L480.51,177.14L481.14,177.36L481.76,177.58L482.38,177.81L483.01,178.03L483.64,178.26L484.26,178.48L484.89,178.70L485.52,178.92L486.15,179.14L486.78,179.36L487.41,179.57L488.05,179.79L488.69,180.00L489.33,180.20L489.97,180.41L490.61,180.61L491.26,180.80L491.91,180.99L492.56,181.18L493.21,181.36L493.87,181.53L494.53,181.70L495.19,181.86L495.85,182.01L496.51,182.15L497.17,182.28L497.84,182.39L498.50,182.50L499.17,182.59L499.83,182.67L500.50,182.74L501.17,182.79L501.83,182.82L502.50,182.84L503.16,182.84L503.82,182.82L504.49,182.78L505.15,182.73L505.81,182.65L506.46,182.56L507.12,182.45L507.78,182.33L508.43,182.19L509.08,182.03L509.73,181.86L510.37,181.68L511.02,181.48L511.66,181.28L512.30,181.06L512.93,180.83L513.57,180.59L514.20,180.35L514.82,180.10L515.45,179.84L516.07,179.57L516.68,179.30L517.30,179.03L517.91,178.75L518.51,178.46L519.12,178.17L519.72,177.88L520.32,177.59L520.91,177.29L521.51,176.99L522.10,176.68L522.69,176.38L523.28,176.07L523.86,175.75L524.45,175.44L525.04,175.13L525.62,174.81L526.20,174.49L526.79,174.17L527.37,173.85L527.95,173.53L528.53,173.21L529.12,172.89L529.70,172.57L530.28,172.25L530.87,171.93L531.45,171.61L532.04,171.29L532.63,170.97L533.22,170.65L533.81,170.34L534.40,170.03L535.00,169.72L535.59,169.41L536.19,169.10L536.79,168.80L537.40,168.50" fill="none" stroke="#0000ff" stroke-width="2.5" stroke-linejoin="round"/>
<path d="M355.50,175.20L356.09,175.22L356.70,175.23L357.33,175.25L357.98,175.26L358.64,175.26L359.32,175.26L360.01,175.24L360.71,175.22L361.42,175.19L362.13,175.14L362.84,175.08L363.56,175.00L364.26,174.91L364.96,174.80L365.66,174.67L366.34,174.52L367.00,174.35L367.65,174.15L368.28,173.93L368.89,173.68L369.48,173.40L370.04,173.10L370.57,172.76L371.07,172.40L371.54,172.00L371.99,171.58L372.41,171.13L372.80,170.66L373.17,170.17L373.52,169.65L373.85,169.12L374.15,168.56L374.44,167.98L374.71,167.39L374.95,166.78L375.18,166.16L375.40,165.53L375.60,164.88L375.78,164.22L375.96,163.55L376.12,162.88L376.26,162.19L376.40,161.50L376.53,160.81L376.65,160.12L376.76,159.42L376.87,158.72L376.97,158.02L377.07,157.32L377.16,156.63L377.25,155.94L377.34,155.26L377.43,154.58L377.51,153.90L377.59,153.23L377.68,152.56L377.76,151.90L377.84,151.24L377.92,150.58L378.00,149.92L378.08,149.27L378.16,148.62L378.25,147.97L378.33,147.33L378.41,146.69L378.50,146.04L378.59,145.40L378.68,144.77L378.77,144.13L378.86,143.49L378.96,142.85L379.06,142.22L379.16,141.58L379.27,140.95L379.38,140.31L379.50,139.67L379.61,139.03L379.74,138.39L379.87,137.75L380.00,137.11L380.14,136.47L380.28,135.82L380.43,135.18L380.59,134.53L380.75,133.88L380.91,133.23L381.08,132.57L381.24,131.92L381.41,131.26L381.59,130.60L381.76,129.94L381.93,129.29L382.11,128.63L382.28,127.97L382.45,127.30L382.62,126.64L382.79,125.98L382.95,125.32L383.11,124.66L383.26,124.00L383.42,123.34L383.56,122.68L383.70,122.02L383.83,121.36L383.96,120.70L384.08,120.05L384.19,119.39L384.29,118.73L384.39,118.08L384.48,117.42L384.57,116.77L384.65,116.12L384.72,115.46L384.79,114.81L384.85,114.16L384.91,113.51L384.97,112.86L385.02,112.20L385.07,111.55L385.11,110.90L385.15,110.25L385.18,109.59L385.22,108.94L385.25,108.29L385.28,107.63L385.30,106.98L385.32,106.32L385.35,105.66L385.37,105.01L385.39,104.35L385.40,103.69L385.42,103.03L385.44,102.37L385.45,101.70L385.47,101.04L385.49,100.37L385.50,99.71L385.52,99.04L385.54,98.37L385.56,97.70L385.58,97.02L385.61,96.35L385.63,95.67L385.66,94.99L385.69,94.31L385.72,93.63L385.75,92.95L385.78,92.26L385.82,91.58L385.85,90.89L385.89,90.21L385.93,89.52L385.97,88.83L386.01,88.15L386.05,87.46L386.09,86.77L386.14,86.08L386.18,85.40L386.23,84.71L386.28,84.02L386.33,83.34L386.37,82.65L386.42,81.97L386.47,81.28L386.52,80.60L386.58,79.92L386.63,79.24L386.68,78.56L386.73,77.88L386.79,77.21L386.84,76.54L386.90,75.87L386.95,75.20L387.00,74.53L387.06,73.87L387.11,73.21L387.17,72.55L387.22,71.89L387.28,71.24L387.33,70.59L387.39,69.94L387.44,69.30L387.50,68.66L387.55,68.02L387.61,67.39L387.66,66.76L387.71,66.13L387.77,65.51L387.82,64.90L387.87,64.28L387.92,63.68L387.97,63.07L388.02,62.47L388.07,61.88L388.12,61.29L388.17,60.70L388.22,60.11L388.27,59.52L388.32,58.92L388.37,58.31L388.42,57.70L388.48,57.06L388.54,56.41L388.60,55.75L388.67,55.06L388.74,54.34L388.81,53.61L388.89,52.84L388.98,52.04L389.07,51.20L389.16,50.33L389.27,49.42L389.38,48.51L389.50,47.64L389.62,46.87L389.74,46.25L389.87,45.85L390.00,45.71L390.14,45.87L390.27,46.29L390.40,46.92L390.52,47.70L390.64,48.57L390.76,49.49L390.86,50.40L390.95,51.26L391.03,52.09L391.10,52.89L391.16,53.65L391.22,54.39L391.26,55.10L391.30,55.78L391.34,56.44L391.37,57.09L391.39,57.71L391.41,58.33L391.43,58.93L391.44,59.53L391.46,60.12L391.47,60.71L391.48,61.30L391.50,61.89L391.51,62.48L391.53,63.09L391.55,63.70L391.57,64.31L391.59,64.93L391.61,65.55L391.63,66.18L391.66,66.82L391.68,67.45L391.71,68.10L391.73,68.74L391.76,69.39L391.79,70.05L391.82,70.70L391.85,71.36L391.88,72.02L391.91,72.69L391.94,73.36L391.97,74.03L392.00,74.70L392.03,75.37L392.06,76.04L392.09,76.72L392.12,77.39L392.16,78.07L392.19,78.75L392.22,79.42L392.25,80.10L392.27,80.78L392.30,81.45L392.33,82.13L392.36,82.81L392.39,83.48L392.41,84.16L392.44,84.83L392.47,85.51L392.49,86.19L392.52,86.86L392.54,87.54L392.56,88.21L392.59,88.89L392.61,89.56L392.63,90.23L392.66,90.91L392.68,91.58L392.70,92.26L392.72,92.93L392.74,93.60L392.76,94.28L392.78,94.95L392.80,95.62L392.82,96.30L392.84,96.97L392.86,97.64L392.88,98.32L392.90,98.99L392.92,99.66L392.93,100.33L392.95,101.01L392.97,101.68L392.98,102.35L393.00,103.02L393.01,103.69L393.03,104.36L393.05,105.04L393.06,105.71L393.07,106.38L393.09,107.05L393.10,107.72L393.12,108.39L393.13,109.06L393.14,109.73L393.16,110.40L393.17,111.07L393.18,111.74L393.19,112.41L393.20,113.08L393.22,113.75L393.23,114.42L393.24,115.09L393.25,115.76L393.26,116.43L393.27,117.10L393.28,117.77L393.29,118.44L393.30,119.11L393.31,119.77L393.32,120.44L393.33,121.11L393.34,121.78L393.34,122.45L393.35,123.12L393.36,123.79L393.37,124.45L393.38,125.12L393.39,125.79L393.39,126.46L393.40,127.13L393.41,127.79L393.41,128.46L393.42,129.13L393.43,129.80L393.44,130.46L393.44,131.13L393.45,131.80L393.45,132.47L393.46,133.13L393.47,133.80L393.47,134.47L393.48,135.13L393.48,135.80L393.49,136.47L393.50,137.13L393.50,137.80L393.51,138.47L393.51,139.13L393.52,139.80L393.52,140.47L393.53,141.13L393.53,141.80L393.54,142.47L393.54,143.13L393.55,143.80L393.55,144.46L393.56,145.13L393.56,145.80L393.57,146.46L393.57,147.13L393.58,147.79L393.58,148.46L393.59,149.13L393.59,149.79L393.60,150.46L393.60,151.12L393.61,151.79L393.61,152.45L393.61,153.12L393.62,153.79L393.62,154.45L393.63,155.12L393.63,155.78L393.64,156.45L393.64,157.11L393.65,157.78L393.65,158.44L393.66,159.11L393.66,159.78L393.67,160.44L393.67,161.11L393.68,161.77L393.69,162.44L393.69,163.10L393.70,163.77L393.70,164.43L393.71,165.10L393.71,165.76L393.72,166.43L393.73,167.09L393.73,167.76L393.74,168.42L393.74,169.09L393.75,169.75L393.76,170.42L393.77,171.09L393.77,171.75L393.78,172.42L393.79,173.08L393.79,173.75L393.80,174.41L393.81,175.08L393.82,175.74L393.83,176.41L393.83,177.07L393.84,177.74L393.85,178.40L393.86,179.07L393.87,179.74L393.88,180.40L393.89,181.07L393.90,181.73L393.91,182.40L393.92,183.06L393.93,183.73L393.94,184.39L393.95,185.06L393.96,185.73L393.97,186.39L393.98,187.06L394.00,187.72L394.01,188.39L394.02,189.06L394.03,189.72L394.05,190.39L394.06,191.05L394.07,191.72L394.09,192.39L394.10,193.05L394.11,193.72L394.13,194.38L394.14,195.05L394.16,195.72L394.17,196.38L394.19,197.05L394.21,197.72L394.22,198.38L394.24,199.05L394.26,199.72L394.27,200.38L394.29,201.05L394.31,201.72L394.33,202.38L394.35,203.05L394.37,203.72L394.39,204.39L394.41,205.05L394.43,205.72L394.45,206.39L394.47,207.06L394.49,207.72L394.51,208.39L394.53,209.06L394.55,209.73L394.58,210.39L394.60,211.06L394.62,211.73L394.64,212.40L394.67,213.07L394.69,213.73L394.72,214.40L394.74,215.07L394.77,215.74L394.79,216.41L394.82,217.07L394.84,217.74L394.87,218.41L394.89,219.08L394.92,219.75L394.95,220.42L394.97,221.08L395.00,221.75L395.03,222.42L395.06,223.09L395.09,223.76L395.11,224.43L395.14,225.09L395.17,225.76L395.20,226.43L395.23,227.10L395.26,227.77L395.29,228.44L395.32,229.10L395.35,229.77L395.38,230.44L395.41,231.11L395.44,231.78L395.47,232.45L395.50,233.11L395.54,233.78L395.57,234.45L395.60,235.12L395.63,235.79L395.66,236.45L395.70,237.12L395.73,237.79L395.76,238.46L395.80,239.13L395.83,239.80L395.86,240.46L395.90,241.13L395.93,241.80L395.96,242.47L396.00,243.14L396.03,243.80L396.07,244.47L396.10,245.14L396.14,245.81L396.17,246.47L396.21,247.14L396.24,247.81L396.28,248.48L396.31,249.14L396.35,249.81L396.38,250.48L396.42,251.15L396.46,251.81L396.49,252.48L396.53,253.15L396.56,253.81L396.60,254.48L396.64,255.15L396.67,255.82L396.71,256.48L396.75,257.15L396.79,257.81L396.82,258.48L396.86,259.15L396.90,259.81L396.93,260.48L396.97,261.15L397.01,261.81L397.05,262.48L397.08,263.14L397.12,263.81L397.16,264.48L397.21,265.15L397.28,265.83L397.38,266.52L397.53,267.24L397.74,267.97L397.99,268.56L398.27,268.72L398.55,268.32L398.79,267.63L398.97,266.89L399.11,266.17L399.20,265.46L399.28,264.76L399.34,264.07L399.40,263.38L399.46,262.70L399.52,262.02L399.59,261.35L399.66,260.68L399.73,260.01L399.80,259.35L399.87,258.69L399.94,258.03L400.02,257.38L400.09,256.73L400.17,256.08L400.25,255.43L400.32,254.78L400.40,254.13L400.47,253.48L400.55,252.83L400.62,252.18L400.69,251.53L400.76,250.88L400.83,250.23L400.90,249.57L400.96,248.91L401.03,248.25L401.09,247.59L401.15,246.93L401.21,246.27L401.27,245.60L401.33,244.93L401.39,244.27L401.45,243.60L401.51,242.93L401.57,242.26L401.64,241.59L401.70,240.92L401.76,240.25L401.83,239.58L401.90,238.91L401.97,238.24L402.04,237.57L402.12,236.90L402.20,236.23L402.28,235.56L402.36,234.90L402.45,234.23L402.54,233.57L402.63,232.90L402.72,232.24L402.82,231.58L402.92,230.91L403.02,230.25L403.12,229.59L403.22,228.93L403.32,228.27L403.43,227.61L403.54,226.95L403.64,226.29L403.75,225.63L403.86,224.97L403.98,224.32L404.09,223.66L404.20,223.00L404.31,222.34L404.42,221.69L404.54,221.03L404.65,220.37L404.76,219.72L404.88,219.06L404.99,218.40L405.10,217.75L405.21,217.09L405.33,216.43L405.44,215.78L405.54,215.12L405.65,214.46L405.76,213.81L405.87,213.15L405.97,212.49L406.07,211.83L406.18,211.18L406.28,210.52L406.38,209.86L406.48,209.20L406.57,208.54L406.67,207.88L406.76,207.22L406.86,206.56L406.95,205.90L407.05,205.24L407.14,204.58L407.23,203.92L407.33,203.26L407.42,202.60L407.51,201.94L407.60,201.28L407.69,200.62L407.78,199.96L407.88,199.30L407.97,198.64L408.06,197.98L408.15,197.32L408.25,196.66L408.34,196.00L408.44,195.34L408.53,194.68L408.63,194.01L408.72,193.35L408.82,192.69L408.92,192.03L409.02,191.37L409.12,190.71L409.22,190.05L409.33,189.39L409.43,188.73L409.54,188.07L409.65,187.41L409.76,186.75L409.87,186.09L409.98,185.43L410.10,184.77L410.21,184.11L410.33,183.45L410.46,182.80L410.58,182.14L410.71,181.48L410.83,180.82L410.97,180.16L411.10,179.50L411.24,178.85L411.37,178.19L411.52,177.53L411.66,176.88L411.81,176.22L411.96,175.56L412.11,174.91L412.26,174.26L412.41,173.60L412.56,172.95L412.71,172.30L412.85,171.65L413.00,171.00L413.14,170.36L413.28,169.71L413.41,169.07L413.55,168.43L413.67,167.79L413.79,167.16L413.91,166.52L414.02,165.89L414.13,165.26L414.23,164.64L414.35,164.01L414.47,163.38L414.60,162.75L414.74,162.12L414.89,161.49L415.07,160.86L415.27,160.22L415.49,159.58L415.73,158.94L416.01,158.29L416.32,157.64L416.67,156.98L417.05,156.31L417.48,155.64L417.94,154.99L418.44,154.45L418.95,154.10L419.47,154.01L419.98,154.23L420.48,154.69L420.94,155.30L421.34,155.96L421.69,156.62L421.99,157.27L422.23,157.90L422.44,158.52L422.63,159.14L422.79,159.76L422.94,160.37L423.09,161.00L423.24,161.63L423.41,162.27L423.59,162.91L423.79,163.56L424.00,164.22L424.22,164.86L424.47,165.51L424.73,166.14L425.02,166.76L425.32,167.37L425.65,167.97L426.00,168.54L426.38,169.09L426.78,169.61L427.20,170.10L427.66,170.56L428.14,170.99L428.66,171.38L429.20,171.73L429.78,172.04L430.38,172.31L431.00,172.56L431.64,172.79L432.30,173.02L432.96,173.24L433.62,173.47L434.28,173.72L434.93,173.98L435.57,174.27L436.21,174.54L436.84,174.78L437.46,174.95L438.07,175.02L438.68,174.98L439.29,174.80L439.89,174.53L440.49,174.16L441.08,173.73L441.66,173.25L442.24,172.75L442.82,172.24L443.39,171.74L443.96,171.27L444.51,170.86L445.07,170.52L445.61,170.27L446.15,170.13L446.68,170.12L447.21,170.26L447.72,170.52L448.23,170.89L448.73,171.35L449.21,171.88L449.68,172.46L450.14,173.08L450.59,173.71L451.02,174.34L451.43,174.96L451.83,175.55L452.22,176.12L452.61,176.68L452.99,177.22L453.38,177.74L453.78,178.25L454.19,178.75L454.62,179.24L455.07,179.72L455.54,180.19L456.03,180.65L456.56,181.09L457.10,181.52L457.66,181.92L458.24,182.30L458.84,182.64L459.44,182.94L460.06,183.21L460.69,183.42L461.32,183.58L461.96,183.69L462.61,183.74L463.25,183.73L463.89,183.66L464.54,183.55L465.18,183.39L465.82,183.18L466.45,182.93L467.08,182.63L467.70,182.31L468.31,181.94L468.92,181.55L469.51,181.13L470.09,180.69L470.66,180.22L471.21,179.74L471.75,179.23L472.28,178.72L472.78,178.19L473.27,177.66L473.73,177.12L474.18,176.59L474.60,176.05L475.00,175.52L475.37,174.99L475.73,174.47L476.07,173.95L476.39,173.44L476.69,172.92L476.99,172.41L477.28,171.89L477.56,171.38L477.84,170.86L478.12,170.34L478.40,169.82L478.68,169.29L478.97,168.75L479.27,168.21L479.58,167.65L479.90,167.09L480.24,166.52L480.60,165.94L480.97,165.35L481.37,164.75L481.79,164.16L482.23,163.57L482.68,163.00L483.16,162.44L483.66,161.92L484.18,161.42L484.72,160.96L485.28,160.54L485.86,160.17L486.46,159.85L487.07,159.59L487.71,159.37L488.35,159.21L489.01,159.10L489.67,159.04L490.33,159.02L491.00,159.05L491.66,159.12L492.33,159.24L492.98,159.40L493.62,159.59L494.26,159.83L494.88,160.10L495.47,160.41L496.05,160.76L496.61,161.14L497.14,161.55L497.65,161.99L498.13,162.46L498.59,162.95L499.04,163.45L499.48,163.98L499.91,164.51L500.33,165.05L500.75,165.59L501.17,166.14L501.59,166.68L502.02,167.21L502.46,167.73L502.91,168.24L503.37,168.74L503.84,169.22L504.33,169.69L504.82,170.14L505.32,170.58L505.84,171.01L506.36,171.43L506.89,171.83L507.43,172.22L507.97,172.60L508.53,172.97L509.09,173.32L509.66,173.66L510.24,173.98L510.82,174.29L511.41,174.59L512.01,174.88L512.61,175.16L513.22,175.42L513.83,175.67L514.45,175.91L515.07,176.13L515.70,176.35L516.33,176.55L516.96,176.74L517.60,176.93L518.24,177.10L518.89,177.26L519.54,177.42L520.19,177.57L520.84,177.71L521.50,177.84L522.15,177.96L522.82,178.08L523.48,178.20L524.14,178.30L524.81,178.41L525.47,178.51L526.14,178.60L526.81,178.69L527.47,178.78L528.14,178.86L528.81,178.94L529.48,179.02L530.15,179.10L530.81,179.18L531.48,179.26L532.14,179.33L532.81,179.41L533.47,179.49L534.13,179.57L534.79,179.65L535.45,179.73L536.10,179.82L536.75,179.91L537.40,180.00" fill="none" stroke="#ff0000" stroke-width="2.5" stroke-linejoin="round"/>
<path d="M355.50,174.40L356.11,174.44L356.74,174.46L357.39,174.48L358.05,174.47L358.73,174.45L359.41,174.42L360.10,174.36L360.79,174.29L361.49,174.20L362.18,174.09L362.87,173.97L363.56,173.82L364.24,173.65L364.91,173.46L365.57,173.25L366.21,173.01L366.84,172.76L367.44,172.47L368.03,172.17L368.59,171.84L369.12,171.48L369.62,171.10L370.10,170.70L370.55,170.27L370.98,169.82L371.38,169.34L371.75,168.85L372.11,168.34L372.44,167.80L372.75,167.25L373.04,166.69L373.31,166.11L373.57,165.51L373.80,164.90L374.03,164.28L374.23,163.64L374.42,163.00L374.60,162.35L374.77,161.68L374.92,161.01L375.06,160.34L375.20,159.66L375.33,158.97L375.45,158.29L375.56,157.59L375.66,156.90L375.77,156.21L375.87,155.52L375.96,154.83L376.06,154.14L376.15,153.46L376.24,152.78L376.33,152.10L376.42,151.42L376.50,150.75L376.59,150.07L376.67,149.40L376.75,148.73L376.83,148.06L376.91,147.40L376.99,146.74L377.06,146.07L377.13,145.41L377.21,144.75L377.28,144.09L377.35,143.44L377.42,142.78L377.49,142.13L377.55,141.47L377.62,140.82L377.69,140.17L377.75,139.51L377.81,138.86L377.88,138.21L377.94,137.56L378.00,136.91L378.06,136.26L378.12,135.61L378.18,134.96L378.23,134.31L378.29,133.66L378.35,133.01L378.41,132.35L378.46,131.70L378.52,131.05L378.57,130.40L378.63,129.74L378.68,129.09L378.74,128.43L378.79,127.77L378.85,127.12L378.90,126.46L378.95,125.80L379.01,125.13L379.06,124.47L379.11,123.80L379.17,123.14L379.22,122.47L379.28,121.80L379.33,121.13L379.39,120.45L379.44,119.77L379.50,119.09L379.55,118.41L379.61,117.73L379.66,117.04L379.72,116.35L379.78,115.66L379.84,114.97L379.90,114.27L379.96,113.57L380.04,112.88L380.13,112.20L380.24,111.54L380.38,110.89L380.54,110.26L380.75,109.66L380.99,109.09L381.28,108.55L381.63,108.05L382.02,107.59L382.44,107.15L382.87,106.70L383.27,106.21L383.64,105.68L383.96,105.12L384.24,104.53L384.48,103.92L384.67,103.30L384.82,102.66L384.94,102.02L385.04,101.36L385.11,100.70L385.16,100.03L385.20,99.35L385.23,98.67L385.26,97.99L385.28,97.30L385.31,96.62L385.36,95.93L385.40,95.25L385.46,94.57L385.52,93.89L385.59,93.21L385.67,92.53L385.75,91.85L385.84,91.18L385.93,90.50L386.03,89.83L386.13,89.16L386.24,88.50L386.34,87.83L386.45,87.17L386.57,86.51L386.68,85.86L386.79,85.20L386.91,84.55L387.03,83.91L387.14,83.26L387.26,82.62L387.37,81.98L387.48,81.35L387.59,80.72L387.70,80.10L387.80,79.48L387.90,78.86L388.00,78.24L388.10,77.64L388.19,77.02L388.28,76.40L388.37,75.77L388.47,75.11L388.58,74.42L388.69,73.69L388.82,72.92L388.97,72.09L389.13,71.22L389.30,70.38L389.49,69.70L389.69,69.29L389.89,69.26L390.09,69.63L390.28,70.29L390.46,71.12L390.61,72.01L390.74,72.85L390.84,73.65L390.91,74.41L390.97,75.13L391.00,75.81L391.03,76.47L391.04,77.10L391.04,77.72L391.03,78.32L391.02,78.92L391.01,79.52L391.00,80.12L391.00,80.72L390.99,81.33L391.00,81.95L391.00,82.58L391.01,83.22L391.03,83.86L391.04,84.50L391.06,85.15L391.08,85.81L391.10,86.47L391.13,87.13L391.16,87.80L391.19,88.47L391.22,89.15L391.25,89.83L391.28,90.51L391.32,91.19L391.35,91.87L391.39,92.56L391.42,93.25L391.46,93.93L391.49,94.62L391.53,95.31L391.56,96.00L391.60,96.68L391.63,97.37L391.66,98.05L391.69,98.73L391.72,99.42L391.75,100.10L391.78,100.78L391.81,101.46L391.83,102.13L391.86,102.81L391.88,103.48L391.91,104.16L391.93,104.83L391.96,105.51L391.98,106.18L392.01,106.85L392.03,107.52L392.05,108.19L392.08,108.86L392.10,109.53L392.12,110.20L392.15,110.86L392.17,111.53L392.19,112.20L392.22,112.86L392.24,113.53L392.27,114.19L392.29,114.86L392.31,115.52L392.34,116.19L392.37,116.85L392.39,117.51L392.42,118.18L392.45,118.84L392.47,119.50L392.50,120.16L392.53,120.83L392.56,121.49L392.58,122.15L392.61,122.81L392.64,123.47L392.67,124.13L392.70,124.79L392.73,125.45L392.76,126.12L392.79,126.78L392.82,127.44L392.85,128.10L392.88,128.76L392.91,129.42L392.94,130.08L392.97,130.74L393.00,131.40L393.03,132.06L393.06,132.72L393.09,133.38L393.12,134.05L393.15,134.71L393.18,135.37L393.21,136.03L393.24,136.69L393.27,137.35L393.30,138.02L393.33,138.68L393.35,139.34L393.38,140.01L393.41,140.67L393.44,141.33L393.47,142.00L393.49,142.66L393.52,143.33L393.55,143.99L393.58,144.66L393.60,145.32L393.63,145.99L393.65,146.66L393.68,147.33L393.70,147.99L393.73,148.66L393.75,149.33L393.77,150.00L393.80,150.67L393.82,151.34L393.84,152.01L393.86,152.69L393.88,153.36L393.90,154.03L393.92,154.70L393.94,155.38L393.96,156.05L393.98,156.73L394.00,157.40L394.02,158.08L394.04,158.75L394.06,159.43L394.07,160.10L394.09,160.78L394.11,161.46L394.13,162.13L394.14,162.81L394.16,163.49L394.18,164.16L394.19,164.84L394.21,165.52L394.23,166.19L394.24,166.87L394.26,167.55L394.28,168.22L394.29,168.90L394.31,169.58L394.33,170.25L394.34,170.93L394.36,171.61L394.38,172.28L394.39,172.96L394.41,173.64L394.43,174.31L394.45,174.99L394.46,175.66L394.48,176.34L394.50,177.01L394.52,177.68L394.54,178.36L394.56,179.03L394.58,179.70L394.60,180.38L394.62,181.05L394.64,181.72L394.66,182.39L394.68,183.06L394.70,183.73L394.72,184.40L394.75,185.07L394.77,185.73L394.79,186.40L394.82,187.07L394.84,187.73L394.87,188.40L394.90,189.06L394.92,189.73L394.95,190.39L394.98,191.05L395.01,191.71L395.04,192.37L395.07,193.03L395.10,193.69L395.13,194.34L395.16,195.00L395.19,195.66L395.23,196.31L395.26,196.96L395.30,197.62L395.34,198.27L395.37,198.92L395.41,199.56L395.45,200.21L395.49,200.86L395.53,201.50L395.58,202.15L395.62,202.79L395.66,203.43L395.71,204.07L395.76,204.71L395.80,205.35L395.85,205.98L395.90,206.62L395.95,207.25L396.00,207.88L396.06,208.51L396.11,209.14L396.17,209.77L396.22,210.39L396.28,211.02L396.34,211.64L396.40,212.26L396.46,212.88L396.53,213.51L396.59,214.15L396.65,214.80L396.71,215.47L396.77,216.18L396.83,216.91L396.88,217.69L396.93,218.51L396.97,219.38L397.01,220.31L397.04,221.28L397.08,222.25L397.13,223.16L397.20,223.95L397.30,224.58L397.43,224.99L397.60,225.13L397.82,224.94L398.08,224.46L398.35,223.79L398.61,223.04L398.83,222.30L399.02,221.58L399.19,220.89L399.34,220.21L399.47,219.54L399.59,218.88L399.71,218.23L399.83,217.58L399.94,216.94L400.05,216.30L400.17,215.67L400.28,215.04L400.39,214.41L400.49,213.78L400.60,213.15L400.71,212.53L400.81,211.90L400.92,211.28L401.02,210.65L401.13,210.02L401.23,209.39L401.33,208.75L401.44,208.12L401.54,207.47L401.65,206.83L401.76,206.17L401.86,205.52L401.97,204.85L402.08,204.18L402.20,203.50L402.31,202.81L402.42,202.11L402.54,201.41L402.67,200.70L402.82,199.99L403.00,199.29L403.23,198.60L403.51,197.93L403.85,197.28L404.26,196.69L404.72,196.27L405.18,196.15L405.64,196.39L406.06,196.90L406.46,197.56L406.81,198.26L407.13,198.95L407.41,199.62L407.66,200.28L407.88,200.92L408.08,201.54L408.26,202.14L408.44,202.72L408.60,203.30L408.76,203.88L408.92,204.48L409.09,205.11L409.27,205.79L409.46,206.52L409.67,207.32L409.91,208.16L410.16,208.95L410.44,209.57L410.73,209.93L411.04,209.94L411.36,209.58L411.68,208.96L411.98,208.19L412.25,207.39L412.49,206.62L412.70,205.90L412.88,205.21L413.03,204.55L413.17,203.91L413.30,203.29L413.42,202.68L413.54,202.07L413.66,201.46L413.79,200.84L413.92,200.21L414.06,199.58L414.20,198.95L414.34,198.30L414.48,197.66L414.62,197.01L414.76,196.35L414.90,195.70L415.04,195.04L415.17,194.38L415.31,193.72L415.43,193.06L415.55,192.39L415.66,191.73L415.77,191.07L415.87,190.41L415.96,189.75L416.06,189.10L416.15,188.45L416.26,187.80L416.39,187.15L416.54,186.50L416.71,185.86L416.91,185.23L417.15,184.59L417.43,183.96L417.76,183.34L418.13,182.72L418.57,182.11L419.05,181.51L419.58,180.98L420.12,180.55L420.66,180.27L421.17,180.20L421.64,180.35L422.09,180.69L422.51,181.19L422.90,181.81L423.29,182.52L423.66,183.28L424.03,184.07L424.40,184.85L424.78,185.58L425.18,186.22L425.59,186.73L426.03,187.07L426.51,187.20L427.02,187.10L427.55,186.80L428.09,186.35L428.63,185.82L429.14,185.23L429.62,184.64L430.07,184.06L430.49,183.48L430.88,182.90L431.25,182.33L431.59,181.75L431.92,181.18L432.23,180.60L432.53,180.02L432.82,179.43L433.10,178.85L433.38,178.26L433.64,177.66L433.90,177.07L434.15,176.47L434.40,175.87L434.64,175.27L434.88,174.67L435.12,174.07L435.35,173.46L435.58,172.85L435.82,172.25L436.05,171.64L436.29,171.03L436.53,170.43L436.77,169.82L437.01,169.22L437.26,168.61L437.52,168.01L437.78,167.40L438.05,166.80L438.33,166.20L438.62,165.60L438.91,165.01L439.22,164.41L439.54,163.82L439.87,163.23L440.22,162.65L440.58,162.07L440.95,161.49L441.34,160.91L441.75,160.34L442.17,159.78L442.61,159.21L443.08,158.66L443.56,158.10L444.06,157.56L444.58,157.02L445.12,156.52L445.67,156.09L446.23,155.77L446.79,155.61L447.34,155.62L447.89,155.84L448.42,156.21L448.93,156.71L449.42,157.28L449.89,157.90L450.32,158.51L450.72,159.12L451.09,159.72L451.44,160.31L451.76,160.89L452.06,161.47L452.33,162.04L452.59,162.61L452.83,163.18L453.06,163.74L453.28,164.30L453.48,164.86L453.68,165.43L453.87,165.99L454.05,166.56L454.23,167.13L454.42,167.71L454.60,168.29L454.79,168.87L454.99,169.47L455.19,170.07L455.40,170.68L455.63,171.30L455.87,171.93L456.12,172.57L456.40,173.23L456.69,173.90L457.01,174.59L457.35,175.29L457.72,176.00L458.11,176.71L458.53,177.40L458.97,178.06L459.44,178.67L459.94,179.22L460.46,179.69L461.01,180.08L461.58,180.37L462.17,180.57L462.77,180.70L463.39,180.74L464.02,180.72L464.65,180.64L465.29,180.50L465.93,180.30L466.57,180.06L467.20,179.78L467.82,179.46L468.43,179.11L469.03,178.74L469.60,178.34L470.16,177.94L470.69,177.52L471.21,177.09L471.71,176.65L472.20,176.19L472.67,175.73L473.13,175.27L473.58,174.79L474.03,174.31L474.47,173.82L474.90,173.34L475.33,172.84L475.77,172.35L476.20,171.85L476.63,171.36L477.07,170.86L477.52,170.37L477.97,169.88L478.43,169.39L478.90,168.91L479.39,168.44L479.89,167.97L480.41,167.51L480.94,167.06L481.49,166.62L482.06,166.21L482.64,165.82L483.24,165.47L483.85,165.16L484.48,164.90L485.12,164.70L485.76,164.55L486.42,164.45L487.07,164.40L487.74,164.40L488.40,164.45L489.06,164.54L489.71,164.67L490.36,164.84L491.00,165.06L491.62,165.30L492.24,165.58L492.83,165.89L493.41,166.23L493.97,166.60L494.50,167.00L495.02,167.41L495.52,167.85L496.00,168.32L496.47,168.79L496.93,169.29L497.37,169.80L497.80,170.32L498.23,170.86L498.64,171.40L499.05,171.95L499.45,172.51L499.86,173.07L500.25,173.63L500.65,174.19L501.05,174.75L501.45,175.31L501.85,175.86L502.26,176.41L502.67,176.95L503.09,177.47L503.52,177.99L503.97,178.48L504.42,178.97L504.88,179.43L505.36,179.88L505.86,180.30L506.37,180.70L506.90,181.08L507.45,181.43L508.03,181.74L508.62,182.03L509.23,182.30L509.86,182.53L510.50,182.73L511.15,182.91L511.81,183.06L512.48,183.18L513.16,183.27L513.83,183.34L514.51,183.38L515.19,183.40L515.86,183.39L516.52,183.36L517.19,183.30L517.84,183.22L518.50,183.11L519.15,182.99L519.80,182.85L520.44,182.69L521.08,182.51L521.71,182.31L522.35,182.10L522.97,181.88L523.60,181.64L524.22,181.39L524.84,181.13L525.46,180.85L526.08,180.57L526.69,180.28L527.30,179.98L527.91,179.68L528.51,179.37L529.11,179.06L529.71,178.74L530.31,178.42L530.91,178.10L531.51,177.78L532.10,177.46L532.69,177.14L533.29,176.83L533.88,176.52L534.47,176.21L535.05,175.92L535.64,175.62L536.23,175.34L536.81,175.06L537.40,174.80" fill="none" stroke="#000" stroke-width="2.5" stroke-linejoin="round"/>
</svg>
<text transform="translate(355.05,298.70) scale(1.000,1.040)" style="font-size:12px" text-anchor="middle">-10</text>
<text transform="translate(381.10,298.70) scale(1.000,1.040)" style="font-size:12px" text-anchor="middle">0</text>
<text transform="translate(407.15,298.70) scale(1.000,1.040)" style="font-size:12px" text-anchor="middle">10</text>
<text transform="translate(433.20,298.70) scale(1.000,1.040)" style="font-size:12px" text-anchor="middle">20</text>
<text transform="translate(459.25,298.70) scale(1.000,1.040)" style="font-size:12px" text-anchor="middle">30</text>
<text transform="translate(485.30,298.70) scale(1.000,1.040)" style="font-size:12px" text-anchor="middle">40</text>
<text transform="translate(511.35,298.70) scale(1.000,1.040)" style="font-size:12px" text-anchor="middle">50</text>
<text transform="translate(537.40,298.70) scale(1.000,1.040)" style="font-size:12px" text-anchor="middle">60</text>
<text transform="translate(350.50,288.55) scale(1.000,1.120)" style="font-size:11.7px" text-anchor="end">-0.02</text>
<text transform="translate(350.50,233.85) scale(1.000,1.120)" style="font-size:11.7px" text-anchor="end">-0.01</text>
<text transform="translate(350.50,179.15) scale(1.000,1.120)" style="font-size:11.7px" text-anchor="end">0.00</text>
<text transform="translate(350.50,124.45) scale(1.000,1.120)" style="font-size:11.7px" text-anchor="end">0.01</text>
<text transform="translate(350.50,69.75) scale(1.000,1.120)" style="font-size:11.7px" text-anchor="end">0.02</text>
<text transform="translate(350.50,15.05) scale(1.000,1.120)" style="font-size:11.7px" text-anchor="end">0.03</text>
<path d="M407.1,53.9H436.3" stroke="#0000ff" stroke-width="2.5" stroke-linecap="round"/>
<text transform="translate(439.40,57.90) scale(1.000,1.050)" style="font-size:13px">Ge 2(a):</text>
<text transform="translate(484.40,57.90) scale(1.080,1.030)" style="font-size:13px">σ</text>
<text transform="translate(511.80,57.90) scale(1.080,1.030)" style="font-size:13px">σ</text>
<text transform="translate(491.60,62.90) scale(1.000,1.030)" style="font-size:8px">hor</text>
<text transform="translate(505.40,57.90) scale(1.000,1.030)" style="font-size:13px">-</text>
<text transform="translate(519.00,62.90) scale(1.000,1.030)" style="font-size:8px">ver</text>
<path d="M407.1,74.4H436.3" stroke="#ff0000" stroke-width="2.5" stroke-linecap="round"/>
<text transform="translate(439.40,78.40) scale(1.000,1.050)" style="font-size:13px">Ge 4(b):</text>
<text transform="translate(484.40,78.40) scale(1.080,1.030)" style="font-size:13px">σ</text>
<text transform="translate(511.80,78.40) scale(1.080,1.030)" style="font-size:13px">σ</text>
<text transform="translate(491.60,83.40) scale(1.000,1.030)" style="font-size:8px">hor</text>
<text transform="translate(505.40,78.40) scale(1.000,1.030)" style="font-size:13px">-</text>
<text transform="translate(519.00,83.40) scale(1.000,1.030)" style="font-size:8px">ver</text>
<path d="M407.1,94.3H436.3" stroke="#000" stroke-width="2.5" stroke-linecap="round"/>
<text transform="translate(439.40,98.30) scale(1.000,1.050)" style="font-size:13px">sum</text>
<text transform="translate(321.10,281.20) rotate(-90) scale(1.040,1)" style="font-size:15px">Linear dichroism at the Ge K-edge (Mbarn)</text>
<text transform="translate(399.80,325.70) scale(1.000,1.050)" style="font-size:15.1px">Energy-E<tspan dx="0.6" dy="5.5" style="font-size:8.9px">edge</tspan><tspan dx="0.2" dy="-5.5"> (eV)</tspan></text>
<text transform="translate(441.00,361.10) scale(1.000,1.080)" style="font-size:11.4px" text-anchor="middle">(<tspan font-weight="bold">b</tspan>)</text>
</svg></body></html>
